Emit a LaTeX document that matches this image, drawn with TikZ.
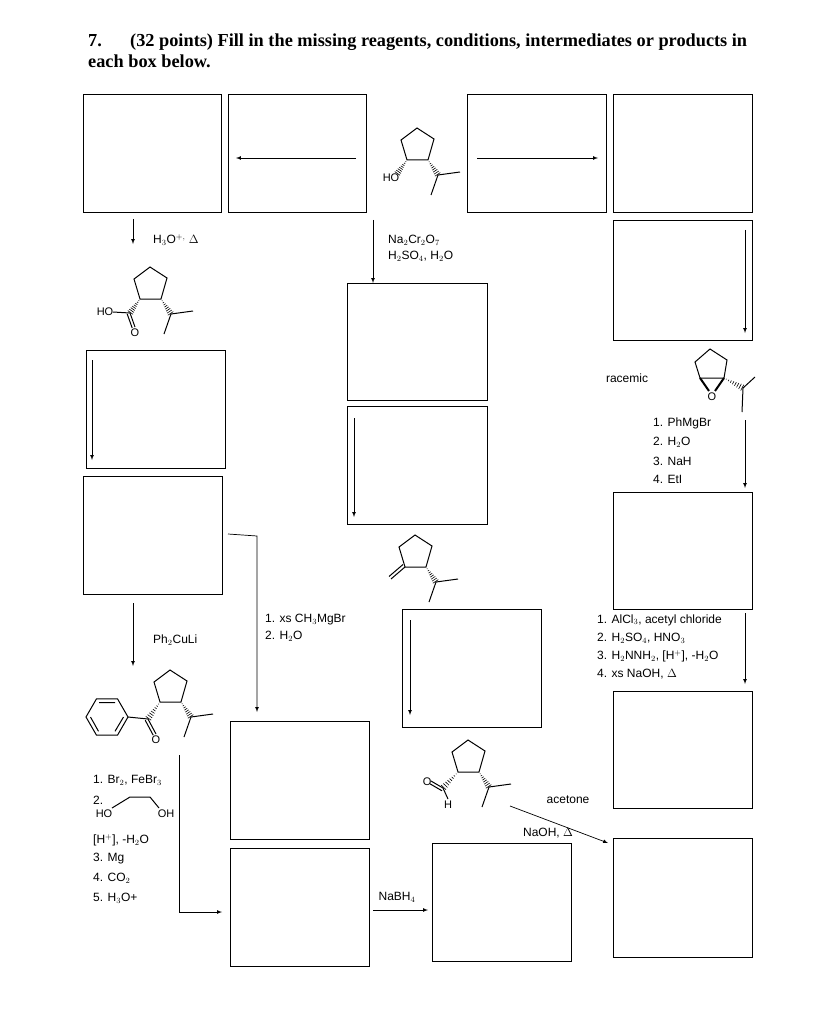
\documentclass[tikz,border=0pt]{standalone}
\usepackage{fontspec}
\setmainfont{Liberation Serif}
\newfontfamily\lab{Liberation Sans}
\usetikzlibrary{calc}
\tikzset{box/.style={draw,line width=1pt},
 arr/.style={-latex,line width=0.7pt},
 bd/.style={line width=1pt},
 lbl/.style={font=\lab\fontsize{12}{14}\selectfont,inner sep=0pt},
 atm/.style={font=\lab\fontsize{11}{12}\selectfont,inner sep=0.5pt}}
\newcommand\hashbond[2]{\foreach \t in {0.12,0.24,...,1.0}{\draw[line width=0.6pt] ($(#1)!\t!(#2)!{\t*3.4pt}!90:(#2)$) -- ($(#1)!\t!(#2)!{\t*3.4pt}!-90:(#2)$);}}
\newcommand\ring{\draw[bd] (0,0) coordinate (lb) -- (-6,-20) -- (10,-32) -- (27,-21) -- (21,0) coordinate (rb) -- cycle;}
\newcommand\iprop{\coordinate (ip) at (31,15); \hashbond{rb}{ip} \draw[bd] (53,12) -- (ip) -- (24,35);}
\begin{document}
\begin{tikzpicture}[x=1pt,y=-1pt]
\useasboundingbox (0,0) rectangle (835,1024);
\tikzset{ttl/.style={anchor=base west,font=\bfseries\fontsize{18.3}{20}\selectfont,inner sep=0}}
\node[ttl] (t1) at (88,47) {7.};
\node[ttl] (t2) at (130,47) {(32 points) Fill in the missing reagents, conditions, intermediates or products in};
\node[ttl] (t3) at (88,68) {each box below.};
\foreach \n/\a/\b/\c/\d in {B1/83/95/221/213,B2/228/95/366/213,B3/467/95/606/213,B4/613/95/752/213,B5/613/221/752/340,B6/347/283/487/400,B7/86/350/225/468,B8/347/406/487/524,B9/83/476/222/594,B10/613/492/752/609,B11/402/609/541/727,B12/613/691/752/808,B13/230/721/369/839,B14/230/848/369/966,B15/432/843/571/961,B16/613/838/752/957}
  \draw[box] (\a,\b) rectangle (\c,\d) node[pos=0.5,inner sep=0] (\n) {};
\coordinate (a1) at (356,158); \coordinate (a2) at (236,158); \draw[arr] (a1) -- (a2);
\coordinate (a3) at (477,158); \coordinate (a4) at (598,158); \draw[arr] (a3) -- (a4);
\coordinate (a5) at (745,230); \coordinate (a6) at (745,333); \draw[arr] (a5) -- (a6);
\coordinate (a7) at (92,360); \coordinate (a8) at (92,460); \draw[arr] (a7) -- (a8);
\coordinate (a9) at (354,418); \coordinate (a10) at (354,517); \draw[arr] (a9) -- (a10);
\coordinate (a11) at (410,620); \coordinate (a12) at (410,715); \draw[arr] (a11) -- (a12);
\coordinate (b1) at (133,219); \coordinate (b2) at (133,244); \draw[arr] (b1) -- (b2);
\node[lbl,anchor=west] (l1) at (153,240) {H$_3$O$^{+,}$ $\Delta$};
\coordinate (b3) at (373,220); \coordinate (b4) at (373,283); \draw[arr] (b3) -- (b4);
\node[lbl,anchor=west] (l2) at (388,240) {Na$_2$Cr$_2$O$_7$};
\node[lbl,anchor=west] (l3) at (388,256) {H$_2$SO$_4$, H$_2$O};
\coordinate (b5) at (745,420); \coordinate (b6) at (745,488); \draw[arr] (b5) -- (b6);
\foreach \s/\y in {{1. PhMgBr}/423,{2. H$_2$O}/442,{3. NaH}/461,{4. EtI}/479} \node[lbl,anchor=west] at (653,\y) {\s};
\coordinate (b7) at (133,603); \coordinate (b8) at (133,666); \draw[arr] (b7) -- (b8);
\node[lbl,anchor=west] (l4) at (153,640) {Ph$_2$CuLi};
\coordinate (b9) at (228,534); \coordinate (b10) at (257,712); \draw[arr] (b9) -- (257,536) -- (b10);
\node[lbl,anchor=west] (l5) at (265,620) {1. xs CH$_3$MgBr};
\node[lbl,anchor=west] (l6) at (265,636) {2. H$_2$O};
\coordinate (b11) at (745,613); \coordinate (b12) at (745,684); \draw[arr] (b11) -- (b12);
\foreach \s/\y in {{1. AlCl$_3$, acetyl chloride}/620,{2. H$_2$SO$_4$, HNO$_3$}/638,{3. H$_2$NNH$_2$, [H$^+$], -H$_2$O}/656,{4. xs NaOH, $\Delta$}/674} \node[lbl,anchor=west] at (597,\y) {\s};
\coordinate (b13) at (179,755); \coordinate (b14) at (222,912); \draw[arr] (b13) -- (179,912) -- (b14);
\foreach \s/\y in {{1. Br$_2$, FeBr$_3$}/780,{2.}/800,{[H$^+$], -H$_2$O}/840,{3. Mg}/859,{4. CO$_2$}/878,{5. H$_3$O+}/898} \node[lbl,anchor=west] at (93,\y) {\s};
\node[atm] (g1) at (104,814) {HO};
\node[atm] (g2) at (166,814) {OH};
\draw[bd] (112,808) -- (130,797) -- (150,797) -- (159,808);
\coordinate (b15) at (373,910); \coordinate (b16) at (428,910); \draw[arr] (b15) -- (b16);
\node[lbl] (l7) at (397,897) {NaBH$_4$};
\coordinate (b17) at (510,806); \coordinate (b18) at (608,843); \draw[arr] (b17) -- (b18);
\node[lbl] (l8) at (568,800) {acetone};
\node[lbl] (l9) at (548,833) {NaOH, $\Delta$};
\node[lbl] (l10) at (627,378) {racemic};
\begin{scope}[shift={(407,160)}]
 \ring \iprop
 \coordinate (s) at (-10,14); \hashbond{lb}{s}
 \node[atm,anchor=east] at (-7,18) {HO};
\end{scope}
\begin{scope}[shift={(140,299)}]
 \ring \iprop
 \coordinate (s) at (-10,14); \hashbond{lb}{s}
 \draw[bd] (s) -- (-27,13);
 \node[atm,anchor=east] at (-26,13) {HO};
 \draw[bd] (s) -- (-5,28); \draw[bd] ($(s)+(-2.8,1)$) -- ($(-5,28)+(-2.8,1)$);
 \node[atm] at (-5,34) {O};
\end{scope}
\begin{scope}[shift={(700,378)}]
 \draw[bd] (0,0) coordinate (lb) -- (-5,-16) -- (10,-29) -- (27,-18) -- (24,0) coordinate (rb) -- cycle;
 \draw[line width=2pt] (lb) -- (9,13);
 \draw[line width=2pt] (rb) -- (15,13);
 \node[atm] at (12,19) {O};
 \coordinate (ip) at (43,10); \hashbond{rb}{ip}
 \draw[bd] (55,-1) -- (ip) -- (42,34);
\end{scope}
\begin{scope}[shift={(405,567)}]
 \ring \iprop
 \draw[bd] (lb) -- (-14,12); \draw[bd] ($(lb)+(-2,-2.5)$) -- ($(-14,12)+(-2,-2.5)$);
\end{scope}
\begin{scope}[shift={(160,702)}]
 \ring \iprop
 \coordinate (s) at (-12,17); \hashbond{lb}{s}
 \draw[bd] (s) -- (-4,32); \draw[bd] ($(s)+(-2.8,1.2)$) -- ($(-4,32)+(-2.8,1.2)$);
 \node[atm] at (-4,38) {O};
 \draw[bd] (s) -- (-32,15);
 \draw[bd] (-32,15) -- (-42.5,-3.2) -- (-63.5,-3.2) -- (-74,15) -- (-63.5,33.2) -- (-42.5,33.2) -- cycle;
 \draw[bd] (-45,0.5) -- (-61,0.5) (-69.5,15) -- (-61.5,29.3) (-45,29.3) -- (-36.5,15);
\end{scope}
\begin{scope}[shift={(458,772)}]
 \ring \iprop
 \coordinate (s) at (-15,16); \hashbond{lb}{s}
 \draw[bd] (s) -- (-27,9); \draw[bd] ($(s)+(-1,2.8)$) -- ($(-27,9)+(-1,2.8)$);
 \node[atm,anchor=east] at (-26,10) {O};
 \draw[bd] (s) -- (-10,27);
 \node[atm] at (-10,33) {H};
\end{scope}
\end{tikzpicture}
\end{document}
